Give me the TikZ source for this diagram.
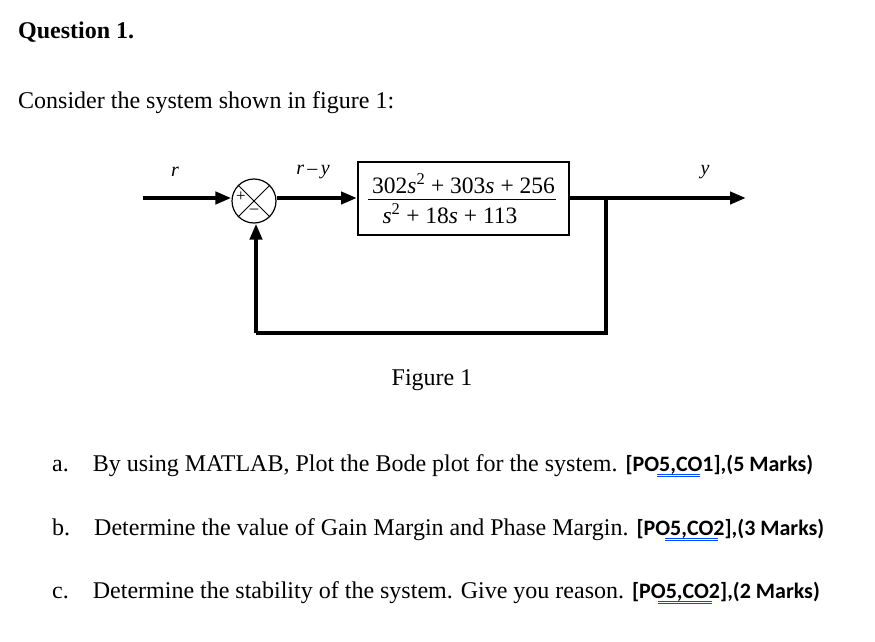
\documentclass[tikz,border=0pt]{standalone}
\usepackage{fontspec}
\setmainfont{Liberation Serif}
\newfontfamily\markfont{Carlito}
\usetikzlibrary{arrows.meta}
\begin{document}
\begin{tikzpicture}[x=1pt,y=-1pt,
  txt/.style={anchor=base west,inner sep=0pt,font=\fontsize{24}{28}\selectfont},
  sig/.style={line width=4pt,-{Triangle[length=16pt,width=12pt]}},
  wire/.style={line width=4pt},
  lab/.style={font=\fontsize{20}{22}\selectfont\itshape},
  wavy/.style={blue!70!cyan,line width=0.8pt}]
\newcommand\mk[1]{{\markfont\bfseries\fontsize{22}{26}\selectfont #1}}
\useasboundingbox[fill=white] (0,0) rectangle (875,642);

\node[txt,font=\bfseries\fontsize{24}{28}\selectfont] (q) at (18,38) {Question 1.};
\node[txt] (c) at (18,108) {Consider the system shown in figure 1:};

% block diagram
\node[circle,draw,line width=1.2pt,minimum size=44pt,inner sep=0pt] (sum) at (254,201) {};
\draw[line width=0.8pt] (sum.north west) -- (sum.south east) (sum.north east) -- (sum.south west);
\node[font=\fontsize{17}{17}\selectfont] (plus) at (241,197) {+};
\node[font=\fontsize{17}{17}\selectfont] (minus) at (254,211) {--};
\node[draw,line width=2pt,minimum width=211pt,minimum height=73pt] (g) at (463.5,198.5) {};
\node[font=\fontsize{23.5}{26}\selectfont] (num) at (463.5,184) {302\textit{s}\textsuperscript{2} + 303\textit{s} + 256};
\node[font=\fontsize{23.5}{26}\selectfont] (den) at (450,214) {\textit{s}\textsuperscript{2} + 18\textit{s} + 113};
\draw[line width=1pt] (368,199) -- (556,199);

\coordinate (in) at (143,198);
\coordinate (out) at (746,198);
\coordinate (br) at (606,198);
\coordinate (bl) at (606,333);
\coordinate (fl) at (256,333);
\draw[sig] (in) -- (sum.west |- in);
\draw[sig] (sum.east |- in) -- (g.west |- in);
\draw[wire] (g.east |- out) -- (br);
\draw[sig] (br) -- (out);
\draw[wire] (br) -- (bl) -- (fl);
\draw[sig] (fl) -- (sum.south -| fl);
\node[lab] (r) at (175,172) {r};
\node[lab] (ry) at (313,172) {r\,\textup{--}\,y};
\node[lab] (y) at (705,172) {y};

\node[txt,anchor=base] (fig) at (432,385) {Figure 1};

% questions
\node[txt] (a) at (52,471) {a.\quad By using MATLAB, Plot the Bode plot for the system. \mk{[PO5,CO1],(5 Marks)}};
\node[txt] (b) at (52,535) {b.\quad Determine the value of Gain Margin and Phase Margin. \mk{[PO5,CO2],(3 Marks)}};
\node[txt] (cc) at (52,598) {c.\quad Determine the stability of the system. Give you reason. \mk{[PO5,CO2],(2 Marks)}};
\draw[wavy] (657,474) -- (700,474) (657,476.5) -- (700,476.5);
\draw[wavy] (665,538) -- (718,538) (665,540.5) -- (718,540.5);
\draw[wavy] (658,601) -- (712,601) (658,603.5) -- (712,603.5);
\end{tikzpicture}
\end{document}
